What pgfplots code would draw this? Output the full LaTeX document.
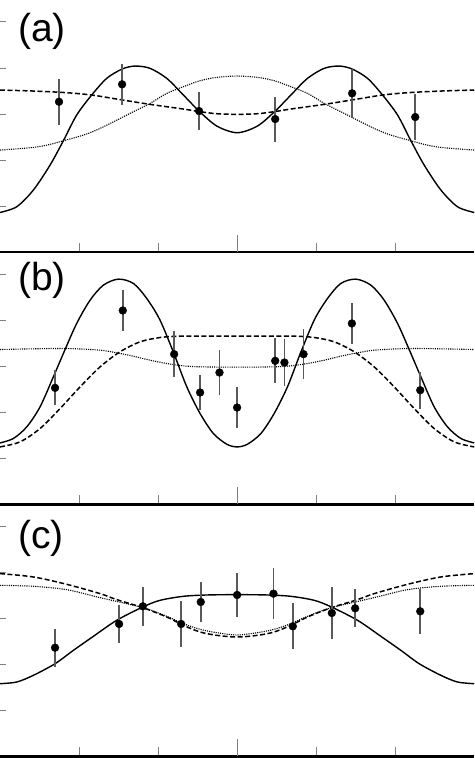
\documentclass[border=0pt]{standalone}
\usepackage{pgfplots}
\pgfplotsset{compat=1.18}
\usepackage{fontspec}
\setmainfont{Liberation Sans}
\begin{document}
\begin{tikzpicture}
\pgfplotsset{
  panel/.style={
    scale only axis, width=474bp, height=252bp,
    xmin=-180, xmax=180, ymin=-1, ymax=4.478,
    axis x line*=bottom, axis y line*=left,
    x axis line style={-, black, line width=2.6bp},
    y axis line style={draw=none},
    tick align=inside,
    xtick={-120,-60,60,120},
    ytick=\empty,
    xticklabels={}, yticklabels={},
    major tick length=9bp,
    extra x ticks={0}, extra x tick labels={},
    extra x tick style={major tick length=17bp},
    extra y ticks={0,1,2,3,4}, extra y tick labels={},
    extra y tick style={major tick length=6bp},
    tick style={gray, line width=1bp},
    clip=false,
  },
  sol/.style={black, line width=1.4bp, smooth, no marks},
  dsh/.style={black, line width=1.5bp, dash pattern=on 5bp off 2.5bp, smooth, no marks},
  dot/.style={black, line width=1.1bp, dash pattern=on 1.1bp off 1.1bp, smooth, no marks},
  pts/.style={only marks, mark=*, mark size=3.9bp, black,
    error bars/.cd, y dir=both, y explicit,
    error bar style={line width=1.5bp, black!65}, error mark=none},
}
% ---------------- (a)
\begin{axis}[panel, at={(0,504bp)}, anchor=south west]
\addplot[sol] coordinates {(-180,-0.138) (-167.3,-0.014) (-154.7,0.348) (-142.0,0.891) (-131.9,1.420) (-121.8,1.978) (-110.4,2.413) (-99.0,2.775) (-87.3,2.978) (-77.5,3.043) (-66.1,2.993) (-53.4,2.775) (-40.8,2.413) (-28.9,2.065) (-15.4,1.739) (0,1.594)
 (15.4,1.739) (28.9,2.065) (40.8,2.413) (53.4,2.775) (66.1,2.993) (77.5,3.043) (87.3,2.978) (99.0,2.775) (110.4,2.413) (121.8,1.978) (131.9,1.420) (142.0,0.891) (154.7,0.348) (167.3,-0.014) (180,-0.138)};
\addplot[dsh] coordinates {(-180,2.522) (-154.7,2.500) (-129.4,2.464) (-110.4,2.413) (-91.4,2.326) (-66.1,2.210) (-40.8,2.109) (-28.1,2.051) (-15.4,2.007) (0,1.993)
 (15.4,2.007) (28.1,2.051) (40.8,2.109) (66.1,2.210) (91.4,2.326) (110.4,2.413) (129.4,2.464) (154.7,2.500) (180,2.522)};
\addplot[dot] coordinates {(-180,1.217) (-154.7,1.275) (-142.0,1.341) (-131.9,1.420) (-116.7,1.543) (-104.0,1.688) (-78.7,2.051) (-66.1,2.232) (-53.4,2.449) (-40.8,2.594) (-28.1,2.725) (-15.4,2.797) (0,2.826)
 (15.4,2.797) (28.1,2.725) (40.8,2.594) (53.4,2.449) (66.1,2.232) (78.7,2.051) (104.0,1.688) (116.7,1.543) (131.9,1.420) (142.0,1.341) (154.7,1.275) (180,1.217)};
\addplot[pts] table[x=x, y=y, y error=e] {
x y e
-135.2 2.267 0.50
-87.3 2.646 0.44
-28.9 2.065 0.41
28.9 1.891 0.49
87.3 2.450 0.53
135.2 1.935 0.49
};
\node[anchor=west, inner sep=0pt, font=\fontsize{39bp}{44bp}\selectfont] at (rel axis cs:0.038,0.877) {(a)};
\end{axis}
% ---------------- (b)
\begin{axis}[panel, at={(0,252bp)}, anchor=south west]
\addplot[sol] coordinates {(-180,0.333) (-169.9,0.428) (-159.7,0.681) (-149.6,1.116) (-139.5,1.768) (-130.6,2.362) (-121.8,2.928) (-111.6,3.435) (-101.5,3.761) (-90.1,3.891) (-78.7,3.797) (-68.6,3.471) (-58.5,3.000) (-47.8,2.261) (-38.2,1.551) (-28.1,0.971) (-18.0,0.536) (-7.8,0.304) (0,0.246)
 (7.8,0.304) (18.0,0.536) (28.1,0.971) (38.2,1.551) (47.8,2.261) (58.5,3.000) (68.6,3.471) (78.7,3.797) (90.1,3.891) (101.5,3.761) (111.6,3.435) (121.8,2.928) (130.6,2.362) (139.5,1.768) (149.6,1.116) (159.7,0.681) (169.9,0.428) (180,0.333)};
\addplot[dsh] coordinates {(-180,0.246) (-164.8,0.355) (-149.6,0.645) (-134.4,1.080) (-119.2,1.551) (-104.0,1.986) (-88.9,2.312) (-73.7,2.529) (-58.5,2.623) (-43.3,2.652) (-20,2.655) (0,2.655)
 (20,2.655) (43.3,2.652) (58.5,2.623) (73.7,2.529) (88.9,2.312) (104.0,1.986) (119.2,1.551) (134.4,1.080) (149.6,0.645) (164.8,0.355) (180,0.246)};
\addplot[dot] coordinates {(-180,2.362) (-154.7,2.377) (-129.4,2.384) (-104.0,2.348) (-91.4,2.290) (-78.7,2.217) (-66.1,2.130) (-53.4,2.058) (-40.8,2.007) (-28.1,1.986) (0,1.978)
 (28.1,1.986) (40.8,2.007) (53.4,2.058) (66.1,2.130) (78.7,2.217) (91.4,2.290) (104.0,2.348) (129.4,2.384) (154.7,2.377) (180,2.362)};
\addplot[pts] table[x=x, y=y, y error=e] {
x y e
-138.2 1.529 0.38
-86.8 3.210 0.435
-47.8 2.261 0.50
-28.1 1.428 0.39
-13.4 1.862 0.49
0.0 1.101 0.44
28.9 2.116 0.49
35.9 2.080 0.50
50.4 2.261 0.55
87.1 2.928 0.44
139.0 1.478 0.40
};
\node[anchor=west, inner sep=0pt, font=\fontsize{39bp}{44bp}\selectfont] at (rel axis cs:0.038,0.889) {(b)};
\end{axis}
% ---------------- (c)
\begin{axis}[panel, at={(0,0)}, anchor=south west]
\addplot[sol] coordinates {(-180,0.580) (-167.3,0.616) (-154.7,0.761) (-138.2,1.014) (-124.3,1.304) (-109.1,1.609) (-91.4,1.957) (-71.6,2.246) (-58.5,2.391) (-40.8,2.478) (-23.0,2.507) (0,2.514)
 (23.0,2.507) (40.8,2.478) (58.5,2.391) (71.6,2.246) (91.4,1.957) (109.1,1.609) (124.3,1.304) (138.2,1.014) (154.7,0.761) (167.3,0.616) (180,0.580)};
\addplot[dsh] coordinates {(-180,2.971) (-154.7,2.899) (-129.4,2.739) (-104.0,2.536) (-91.4,2.406) (-71.6,2.232) (-53.4,2.029) (-40.8,1.848) (-28.1,1.703) (-15.4,1.630) (0,1.594)
 (15.4,1.630) (28.1,1.703) (40.8,1.848) (53.4,2.029) (71.6,2.232) (91.4,2.406) (104.0,2.536) (129.4,2.739) (154.7,2.899) (180,2.971)};
\addplot[dot] coordinates {(-180,2.717) (-154.7,2.696) (-129.4,2.623) (-104.0,2.449) (-71.6,2.232) (-53.4,2.043) (-40.8,1.884) (-28.1,1.761) (-15.4,1.688) (0,1.638)
 (15.4,1.688) (28.1,1.761) (40.8,1.884) (53.4,2.043) (71.6,2.232) (104.0,2.449) (129.4,2.623) (154.7,2.696) (180,2.717)};
\addplot[pts] table[x=x, y=y, y error=e] {
x y e
-138.2 1.362 0.41
-89.6 1.877 0.41
-71.6 2.261 0.43
-42.5 1.877 0.51
-27.6 2.355 0.44
0.0 2.507 0.485
27.6 2.536 0.56
42.3 1.826 0.50
71.9 2.116 0.56
89.6 2.217 0.41
139.0 2.152 0.49
};
\node[anchor=west, inner sep=0pt, font=\fontsize{39bp}{44bp}\selectfont] at (rel axis cs:0.038,0.866) {(c)};
\end{axis}
\pgfresetboundingbox
\useasboundingbox (0,-1.6bp) rectangle (474bp,756bp);
\end{tikzpicture}
\end{document}
